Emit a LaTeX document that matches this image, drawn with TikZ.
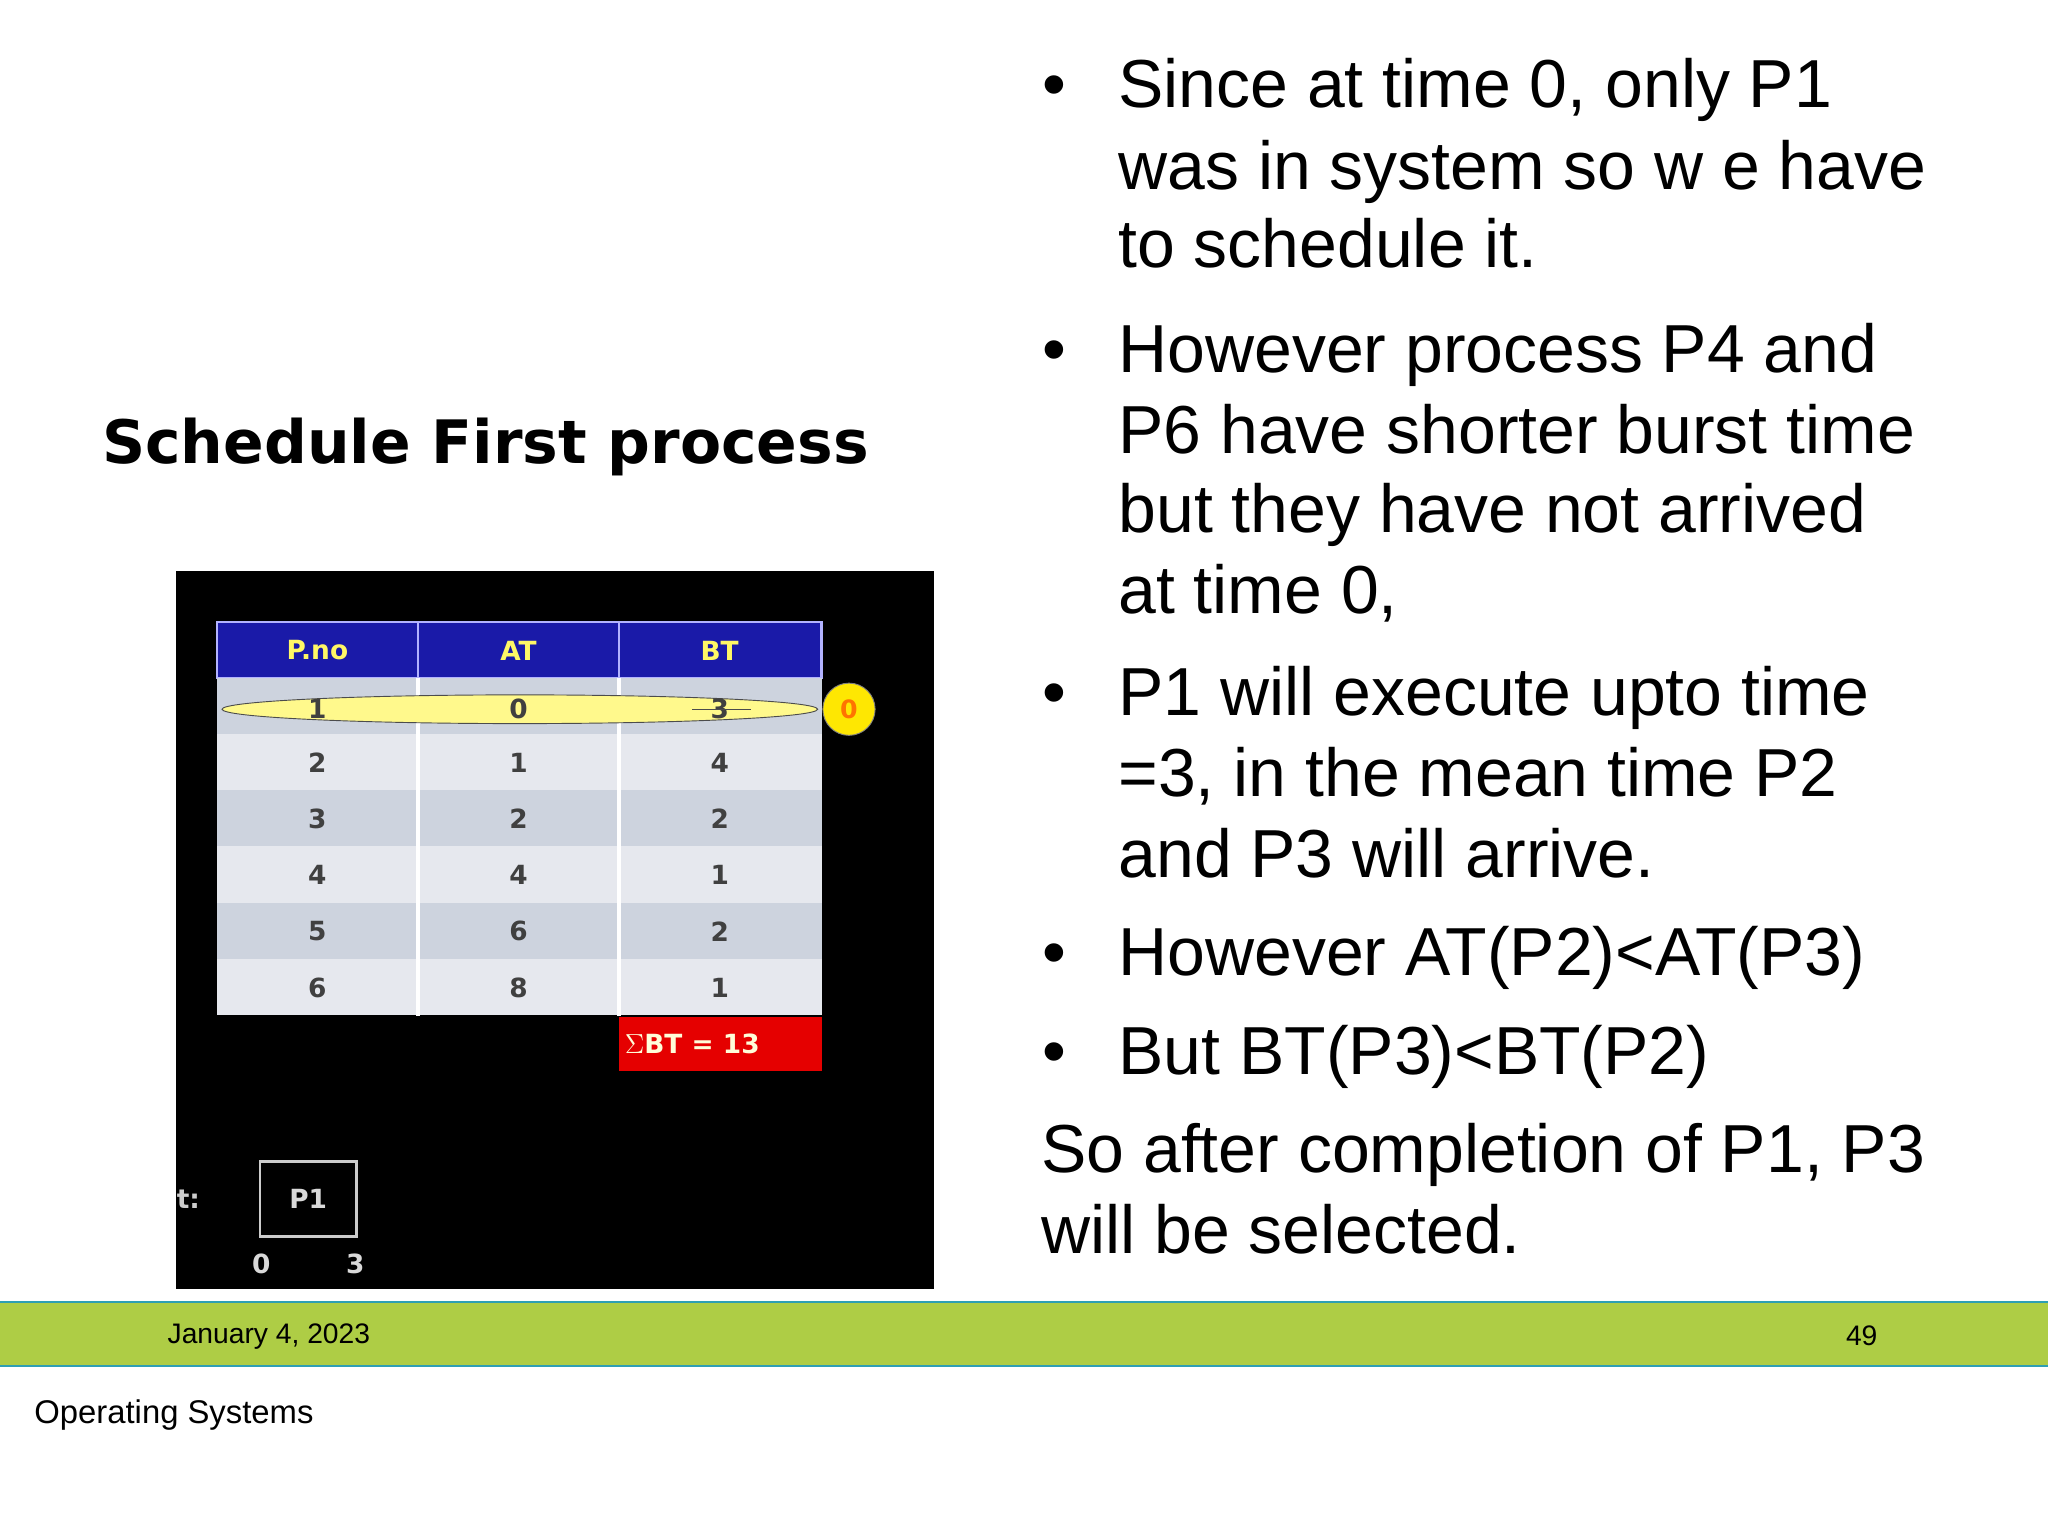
\documentclass[tikz,border=0pt]{standalone}
\usepackage{fontspec}
\setmainfont{Liberation Sans}
\newfontfamily\vb{DejaVu Sans}
\definecolor{hdr}{HTML}{1A1AA8}
\definecolor{rowa}{HTML}{E6E8EE}
\definecolor{rowb}{HTML}{CDD3DE}
\definecolor{bar}{HTML}{AECD45}
\definecolor{barline}{HTML}{2E9FB4}
\begin{document}
\begin{tikzpicture}[x=0.02cm,y=-0.02cm,
  cell/.style={font=\vb\bfseries\fontsize{11.5}{14}\selectfont,text=black!75},
  hcell/.style={font=\vb\bfseries\fontsize{11.5}{14}\selectfont,text=yellow!60},
  bul/.style={anchor=base west,font=\fontsize{29.6}{36}\selectfont,inner sep=0pt},
  foot/.style={anchor=west,font=\fontsize{12.3}{14}\selectfont,inner sep=0pt}]
\useasboundingbox (0,0) rectangle (1568,1176);
\fill[white] (0,0) rectangle (1568,1176);
\node[anchor=base west,inner sep=0pt,font=\vb\bfseries\fontsize{26.1}{32}\selectfont] (title) at (78,355) {Schedule First process};
% black panel
\fill[black] (135,437) rectangle (715,987);
\fill[hdr] (166,476) rectangle (629,519);
\draw[white!70!blue,line width=1pt] (166,476) rectangle (629,519);
\foreach \x in {320,474} \draw[white!70!blue,line width=1pt] (\x,476) -- (\x,519);
\foreach \i/\c in {0/rowb,1/rowa,2/rowb,3/rowa,4/rowb,5/rowa}
  \fill[\c] (166,519+43*\i) rectangle (629,562+43*\i);
\foreach \x in {320,474} \draw[white,line width=1.5pt] (\x,519) -- (\x,778);
\node[hcell] (h1) at (243,498) {P.no};
\node[hcell] (h2) at (397,498) {AT};
\node[hcell] (h3) at (551,498) {BT};
\draw[black!70,fill=yellow!45!white] (398,543) ellipse [x radius=228,y radius=11];
\node[cell] (r1a) at (243,543) {1};
\node[cell] (r1b) at (397,543) {0};
\node[cell] (r1c) at (551,543) {3};
\draw[black!70] (530,543) -- (575,543);
\node[circle,fill=yellow!90!orange,draw=black!50,minimum size=0.8cm,inner sep=0pt,font=\vb\bfseries\fontsize{11}{14}\selectfont,text=orange!90!red] (z) at (650,543) {0};
\foreach \r/\a/\b/\c in {1/2/1/4,2/3/2/2,3/4/4/1,4/5/6/2,5/6/8/1}{
  \node[cell] (p\r a) at (243,541+43*\r) {\a};
  \node[cell] (p\r b) at (397,541+43*\r) {\b};
  \node[cell] (p\r c) at (551,541+43*\r) {\c};
}
\fill[red!90!black] (474,779) rectangle (629,820);
\node[font=\vb\bfseries\fontsize{11.5}{14}\selectfont,text=white!85!yellow] (sum) at (530,799) {$\Sigma$BT = 13};
\node[font=\vb\bfseries\fontsize{11.5}{14}\selectfont,text=white!80!black,anchor=west,inner sep=0pt] (t) at (135,918) {t:};
\node[draw=white!80!black,line width=1.2pt,minimum width=74*0.02cm,minimum height=57*0.02cm,font=\vb\bfseries\fontsize{11.5}{14}\selectfont,text=white!85!black] (g1) at (236,918) {P1};
\node[font=\vb\bfseries\fontsize{11.5}{14}\selectfont,text=white!85!black] (g0) at (200,968) {0};
\node[font=\vb\bfseries\fontsize{11.5}{14}\selectfont,text=white!85!black] (g3) at (272,968) {3};
% bullets
\foreach \y in {82,285,548,747,823} \node[bul] at (798,\y) {•};
\node[bul] (l1) at (856,82) {Since at time 0, only P1};
\node[bul] (l2) at (856,145) {was in system so w e have};
\node[bul] (l3) at (856,205) {to schedule it.};
\node[bul] (l4) at (856,285) {However process P4 and};
\node[bul] (l5) at (856,347) {P6 have shorter burst time};
\node[bul] (l6) at (856,408) {but they have not arrived};
\node[bul] (l7) at (856,470) {at time 0,};
\node[bul] (l8) at (856,548) {P1 will execute upto time};
\node[bul] (l9) at (856,610) {=3, in the mean time P2};
\node[bul] (l10) at (856,672) {and P3 will arrive.};
\node[bul] (l11) at (856,747) {However AT(P2)<AT(P3)};
\node[bul] (l12) at (856,823) {But BT(P3)<BT(P2)};
\node[bul] (l13) at (797,898) {So after completion of P1, P3};
\node[bul] (l14) at (797,960) {will be selected.};
% footer
\fill[bar] (0,997) rectangle (1568,1046);
\draw[barline,line width=0.8pt] (0,997) -- (1568,997) (0,1046) -- (1568,1046);
\node[foot] (date) at (128,1023) {January 4, 2023};
\node[foot] (pg) at (1413,1023) {49};
\node[foot,font=\fontsize{14.3}{16}\selectfont] (os) at (26,1083) {Operating Systems};
\end{tikzpicture}
\end{document}
